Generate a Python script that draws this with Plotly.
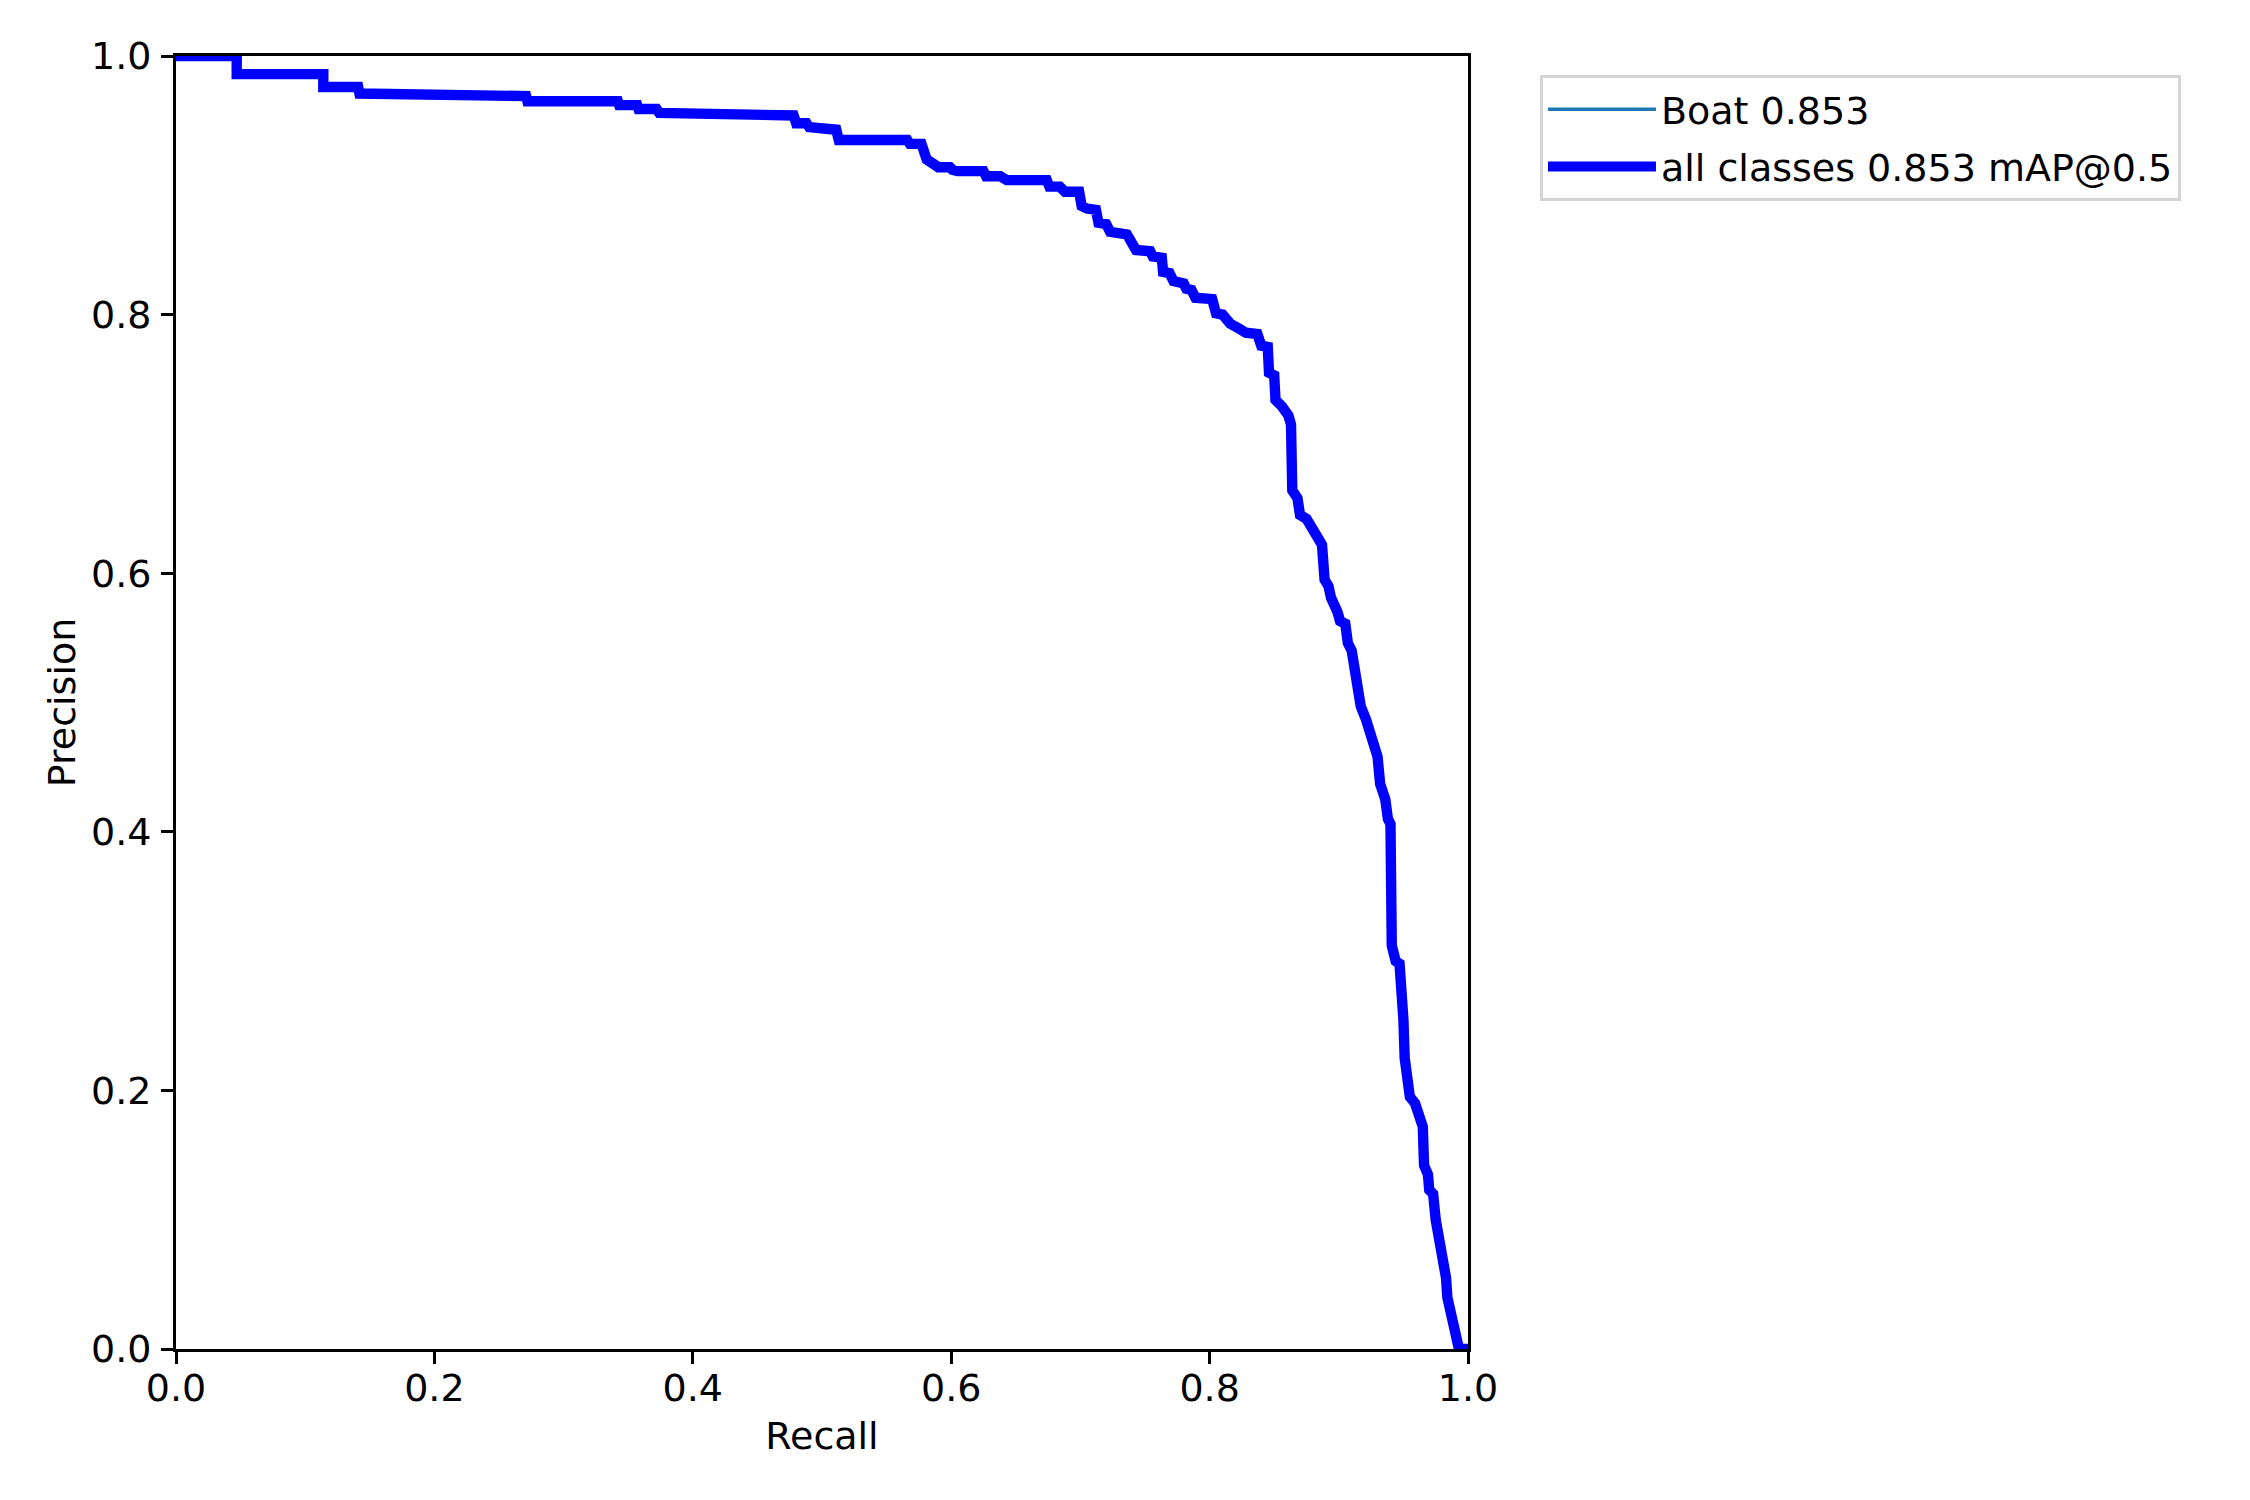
import plotly.graph_objects as go

# Precision-recall curve vertices
recall = [0.000, 0.047, 0.047, 0.114, 0.114, 0.141, 0.142, 0.179, 0.180, 0.271,
          0.272, 0.342, 0.343, 0.357, 0.358, 0.372, 0.374, 0.419, 0.421, 0.478,
          0.480, 0.488, 0.490, 0.498, 0.500, 0.511, 0.513, 0.566, 0.568, 0.577,
          0.581, 0.586, 0.590, 0.599, 0.601, 0.605, 0.625, 0.627, 0.638, 0.643,
          0.674, 0.676, 0.684, 0.688, 0.699, 0.701, 0.705, 0.712, 0.714, 0.720,
          0.723, 0.736, 0.739, 0.743, 0.754, 0.756, 0.763, 0.764, 0.769, 0.772,
          0.780, 0.782, 0.786, 0.789, 0.802, 0.805, 0.810, 0.816, 0.823, 0.828,
          0.837, 0.840, 0.845, 0.846, 0.850, 0.851, 0.856, 0.861, 0.863, 0.864,
          0.868, 0.870, 0.875, 0.881, 0.884, 0.887, 0.889, 0.892, 0.894, 0.899,
          0.901, 0.905, 0.907, 0.910, 0.912, 0.915, 0.917, 0.921, 0.924, 0.927,
          0.930, 0.932, 0.936, 0.938, 0.940, 0.941, 0.944, 0.947, 0.948, 0.950,
          0.951, 0.953, 0.955, 0.959, 0.962, 0.965, 0.966, 0.969, 0.970, 0.973,
          0.975, 0.977, 0.978, 0.981, 0.983, 0.984, 0.993, 1.000]
precision = [1.000, 1.000, 0.986, 0.986, 0.976, 0.976, 0.971, 0.971, 0.969, 0.969,
             0.965, 0.965, 0.962, 0.962, 0.959, 0.959, 0.956, 0.956, 0.954, 0.954,
             0.948, 0.948, 0.945, 0.945, 0.943, 0.943, 0.935, 0.935, 0.932, 0.932,
             0.920, 0.917, 0.914, 0.914, 0.912, 0.911, 0.911, 0.907, 0.907, 0.904,
             0.904, 0.899, 0.899, 0.895, 0.895, 0.884, 0.882, 0.881, 0.871, 0.870,
             0.864, 0.862, 0.855, 0.850, 0.849, 0.845, 0.844, 0.833, 0.832, 0.826,
             0.824, 0.820, 0.819, 0.813, 0.812, 0.801, 0.800, 0.793, 0.789, 0.786,
             0.785, 0.776, 0.775, 0.755, 0.753, 0.734, 0.729, 0.722, 0.715, 0.664,
             0.658, 0.645, 0.642, 0.634, 0.627, 0.622, 0.595, 0.590, 0.581, 0.570,
             0.563, 0.561, 0.546, 0.540, 0.528, 0.505, 0.497, 0.487, 0.479, 0.470,
             0.458, 0.437, 0.425, 0.410, 0.406, 0.312, 0.300, 0.298, 0.260, 0.255,
             0.225, 0.215, 0.195, 0.190, 0.180, 0.172, 0.142, 0.135, 0.123, 0.120,
             0.100, 0.090, 0.082, 0.072, 0.055, 0.040, 0.000, 0.000]

class_name = "Boat"
class_ap = 0.853
map50 = 0.853
tick_vals = [0.0, 0.2, 0.4, 0.6, 0.8, 1.0]

FONT = "DejaVu Sans"
FS = 38
fig = go.Figure()
fig.add_trace(go.Scatter(
    x=recall, y=precision, mode="lines",
    name=f"{class_name} {class_ap:.3f}",
    line=dict(color="#1f77b4", width=3.5),
    legendgroup="a",
))
fig.add_trace(go.Scatter(
    x=recall, y=precision, mode="lines",
    name=f"all classes {map50:.3f} mAP@0.5",
    line=dict(color="#0000ff", width=10.4),
    legendgroup="b",
))

axis_common = dict(
    range=[0, 1], tickvals=tick_vals, tickformat=".1f",
    showgrid=False, zeroline=False,
    showline=True, linecolor="black", linewidth=2.8, mirror=True,
    ticks="outside", ticklen=12, tickwidth=2.8, tickcolor="black",
    tickfont=dict(family=FONT, size=FS, color="black"),
)
fig.update_xaxes(**axis_common, ticklabelstandoff=-9,
                 title=dict(text="Recall", font=dict(family=FONT, size=FS, color="black"), standoff=14))
fig.update_yaxes(**axis_common, ticklabelstandoff=2,
                 title=dict(text="Precision", font=dict(family=FONT, size=FS, color="black"), standoff=4))

fig.update_layout(
    width=2250, height=1500, autosize=False,
    margin=dict(l=168, r=790, t=48, b=159, pad=0),
    paper_bgcolor="white", plot_bgcolor="white",
    font=dict(family=FONT, size=FS, color="black"),
    legend=dict(
        x=1.0557, y=0.9853, xanchor="left", yanchor="top",
        bgcolor="white", bordercolor="#d5d5d5", borderwidth=3,
        font=dict(family=FONT, size=FS, color="black"),
        traceorder="grouped", tracegroupgap=5, itemwidth=108,
    ),
    showlegend=True,
)

fig.write_html("out.html")
